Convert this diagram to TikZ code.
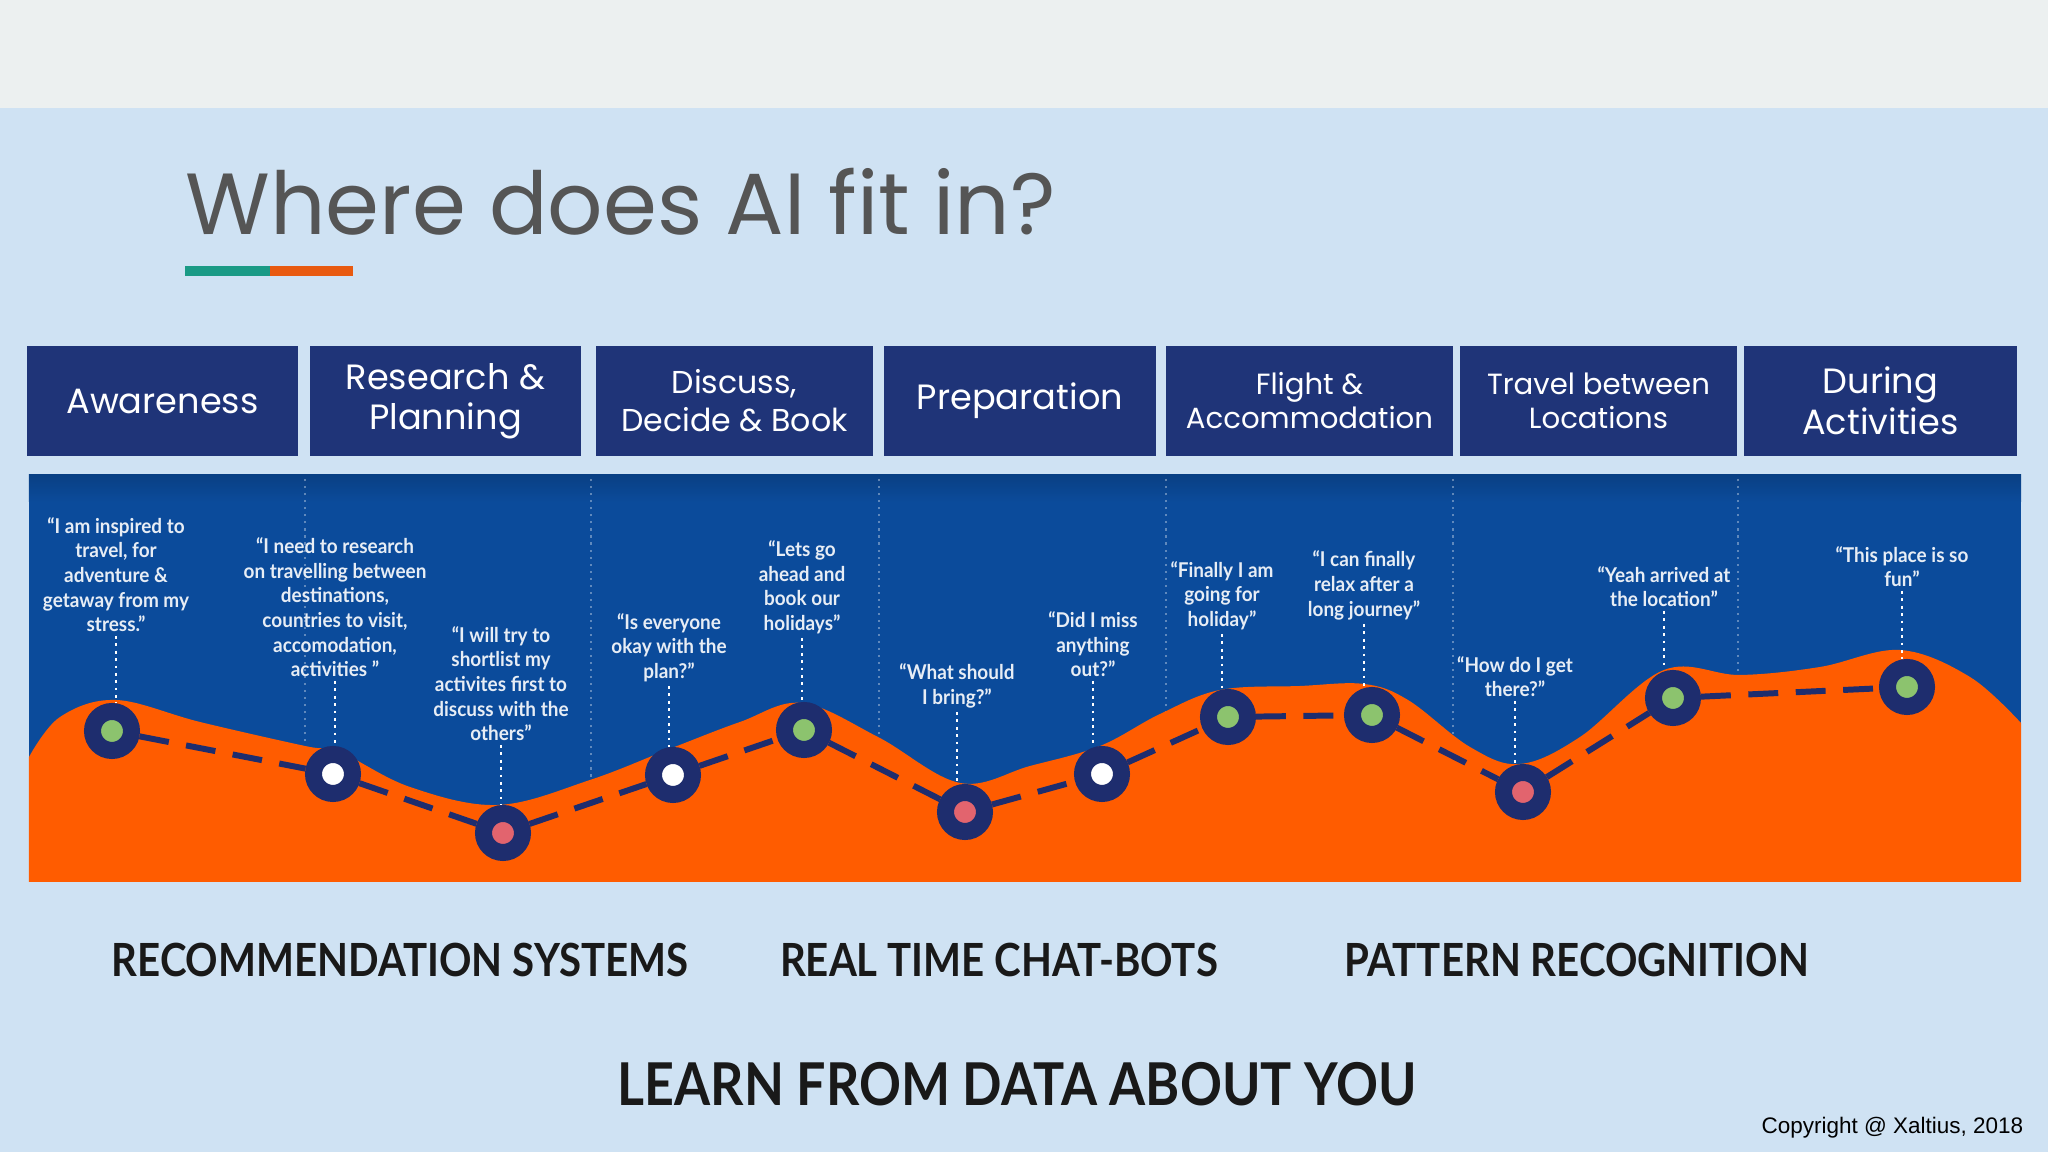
\documentclass[tikz,border=0pt]{standalone}
\usepackage{fontspec}
\setmainfont{Lato}
\newfontfamily\headfont{Poppins}
\newfontfamily\notefont{Liberation Sans}
\newfontfamily\capsfont[FakeStretch=0.88]{Lato}
\newfontfamily\quotefont[FakeStretch=0.93]{Lato}
\definecolor{skyback}{RGB}{207,226,243}
\definecolor{topstrip}{RGB}{236,240,240}
\definecolor{stagenavy}{RGB}{31,52,120}
\definecolor{panelblue}{RGB}{11,75,155}
\definecolor{hillorange}{RGB}{255,92,0}
\definecolor{ringnavy}{RGB}{30,45,110}
\definecolor{moodgood}{RGB}{140,195,110}
\definecolor{moodbad}{RGB}{226,100,110}
\definecolor{titlegray}{RGB}{85,85,85}
\definecolor{barteal}{RGB}{26,154,133}
\definecolor{barorange}{RGB}{232,90,16}
\colorlet{moodok}{white}
\usepackage{tikz}
\usetikzlibrary{positioning}

\begin{document}
\begin{tikzpicture}[
    stage/.style={fill=stagenavy, text=white, minimum height=1.10cm, inner sep=2pt, outer sep=0pt,
      align=center, font=\headfont\fontsize{10}{11.5}\selectfont},
    quote/.style={text=white!90!panelblue, align=center, inner sep=1pt, anchor=south,
      font=\quotefont\bfseries\fontsize{5.8}{7}\selectfont},
    stop/.style={circle, draw=ringnavy, line width=0.17cm, minimum size=0.39cm, inner sep=0pt},
    track/.style={ringnavy, line width=1.7pt, dash pattern=on 8.5pt off 5pt},
    pin/.style={white, line width=0.8pt, dash pattern=on 0.8pt off 1.3pt},
    split/.style={white, opacity=0.35, line width=0.6pt, dash pattern=on 0.6pt off 1.4pt},
    ai/.style={font=\capsfont\bfseries\fontsize{13}{16}\selectfont, text=black!90},
  ]
    \fill[skyback] (0,0) rectangle (20.48,11.52);
    \fill[topstrip] (0,10.44) rectangle (20.48,11.52);
    \useasboundingbox (0,0) rectangle (20.48,11.52);

    \node[anchor=base west, inner sep=0pt, text=titlegray,
      font=\headfont\fontsize{24.7}{30}\selectfont] (title) at (1.85,9.17) {Where does AI fit in?};
    \fill[barteal] (1.85,8.76) rectangle (2.70,8.86);
    \fill[barorange] (2.70,8.76) rectangle (3.53,8.86);

    \node[stage, minimum width=2.71cm] (s1) at (1.625,7.51) {Awareness};
    \node[stage, minimum width=2.71cm, right=0.12cm of s1] (s2) {Research \&\\Planning};
    \node[stage, minimum width=2.77cm, right=0.15cm of s2, font=\headfont\fontsize{9}{10.8}\selectfont] (s3) {Discuss,\\Decide \& Book};
    \node[stage, minimum width=2.72cm, right=0.11cm of s3] (s4) {Preparation};
    \node[stage, minimum width=2.87cm, right=0.10cm of s4, font=\headfont\fontsize{8.3}{9.7}\selectfont] (s5) {Flight \&\\Accommodation};
    \node[stage, minimum width=2.77cm, right=0.07cm of s5, font=\headfont\fontsize{8.3}{9.7}\selectfont] (s6) {Travel between\\Locations};
    \node[stage, minimum width=2.73cm, right=0.07cm of s6] (s7) {During\\Activities};

    \fill[panelblue] (0.29,2.70) rectangle (20.21,6.77);
    \shade[top color=panelblue!85!black, bottom color=panelblue] (0.29,6.50) rectangle (20.21,6.77);
    \draw[split] (3.05,2.70) -- (3.05,6.77);
    \draw[split] (5.91,2.70) -- (5.91,6.77);
    \draw[split] (8.79,2.70) -- (8.79,6.77);
    \draw[split] (11.66,2.70) -- (11.66,6.77);
    \draw[split] (14.53,2.70) -- (14.53,6.77);
    \draw[split] (17.38,2.70) -- (17.38,6.77);
    \fill[hillorange] plot[smooth, tension=0.6] coordinates {(0.29,3.95) (0.60,4.35) (1.16,4.52)
      (2.00,4.30) (3.05,4.06) (3.40,4.00) (4.10,3.65) (4.98,3.47) (5.90,3.72) (6.72,4.04)
      (7.40,4.30) (8.02,4.49) (8.78,4.15) (9.60,3.69) (10.30,3.86) (11.00,4.06) (11.60,4.38)
      (12.20,4.62) (13.00,4.66) (13.64,4.68) (14.08,4.52) (14.70,4.05) (15.20,3.88) (15.80,4.15)
      (16.64,4.82) (17.40,4.77) (18.20,4.85) (19.00,5.02) (19.70,4.75) (20.21,4.29)}
      -- (20.21,2.70) -- (0.29,2.70) -- cycle;

    \node[stop, fill=moodgood] (c1) at (1.12,4.21) {};
    \node[stop, fill=moodok] (c2) at (3.33,3.78) {};
    \node[stop, fill=moodbad] (c3) at (5.03,3.19) {};
    \node[stop, fill=moodok] (c4) at (6.73,3.77) {};
    \node[stop, fill=moodgood] (c5) at (8.04,4.22) {};
    \node[stop, fill=moodbad] (c6) at (9.65,3.40) {};
    \node[stop, fill=moodok] (c7) at (11.02,3.78) {};
    \node[stop, fill=moodgood] (c8) at (12.28,4.35) {};
    \node[stop, fill=moodgood] (c9) at (13.72,4.37) {};
    \node[stop, fill=moodbad] (c10) at (15.23,3.60) {};
    \node[stop, fill=moodgood] (c11) at (16.73,4.54) {};
    \node[stop, fill=moodgood] (c12) at (19.07,4.65) {};
    \draw[track] (c1) -- (c2) (c2) -- (c3) (c3) -- (c4) (c4) -- (c5) (c5) -- (c6) (c6) -- (c7)
      (c7) -- (c8) (c8) -- (c9) (c9) -- (c10) (c10) -- (c11) (c11) -- (c12);

    \node[quote] (q1) at (1.16,5.16) {“I am inspired to\\travel, for\\adventure \&\\getaway from my\\stress.”};
    \node[quote] (q2) at (3.35,4.71) {“I need to research\\on travelling between\\destinations,\\countries to visit,\\accomodation,\\activities ”};
    \node[quote] (q3) at (5.01,4.07) {“I will try to\\shortlist my\\activites first to\\discuss with the\\others”};
    \node[quote] (q4) at (6.69,4.66) {“Is everyone\\okay with the\\plan?”};
    \node[quote] (q5) at (8.02,5.14) {“Lets go\\ahead and\\book our\\holidays”};
    \node[quote] (q6) at (9.57,4.40) {“What should\\I bring?”};
    \node[quote] (q7) at (10.93,4.71) {“Did I miss\\anything\\out?”};
    \node[quote] (q8) at (12.22,5.18) {“Finally I am\\going for\\holiday”};
    \node[quote] (q9) at (13.64,5.28) {“I can finally\\relax after a\\long journey”};
    \node[quote] (q10) at (15.15,4.51) {“How do I get\\there?”};
    \node[quote] (q11) at (16.64,5.41) {“Yeah arrived at\\the location”};
    \node[quote] (q12) at (19.02,5.61) {“This place is so\\fun”};
    \draw[pin] (q1.south) -- (q1.south |- c1.north);
    \draw[pin] (q2.south) -- (q2.south |- c2.north);
    \draw[pin] (q3.south) -- (q3.south |- c3.north);
    \draw[pin] (q4.south) -- (q4.south |- c4.north);
    \draw[pin] (q5.south) -- (q5.south |- c5.north);
    \draw[pin] (q6.south) -- (q6.south |- c6.north);
    \draw[pin] (q7.south) -- (q7.south |- c7.north);
    \draw[pin] (q8.south) -- (q8.south |- c8.north);
    \draw[pin] (q9.south) -- (q9.south |- c9.north);
    \draw[pin] (q10.south) -- (q10.south |- c10.north);
    \draw[pin] (q11.south) -- (q11.south |- c11.north);
    \draw[pin] (q12.south) -- (q12.south |- c12.north);

    \node[ai] (rec) at (4.00,1.92) {RECOMMENDATION SYSTEMS};
    \node[ai] (chat) at (9.99,1.92) {REAL TIME CHAT-BOTS};
    \node[ai] (pat) at (15.77,1.92) {PATTERN RECOGNITION};
    \node[ai, font=\capsfont\bfseries\fontsize{16.8}{20}\selectfont] (learn) at (10.17,0.68) {LEARN FROM DATA ABOUT YOU};
    \node[anchor=east, inner sep=0pt, font=\notefont\fontsize{6.4}{7.5}\selectfont] (copy) at (20.24,0.24) {Copyright @ Xaltius, 2018};
  \end{tikzpicture}
\end{document}
